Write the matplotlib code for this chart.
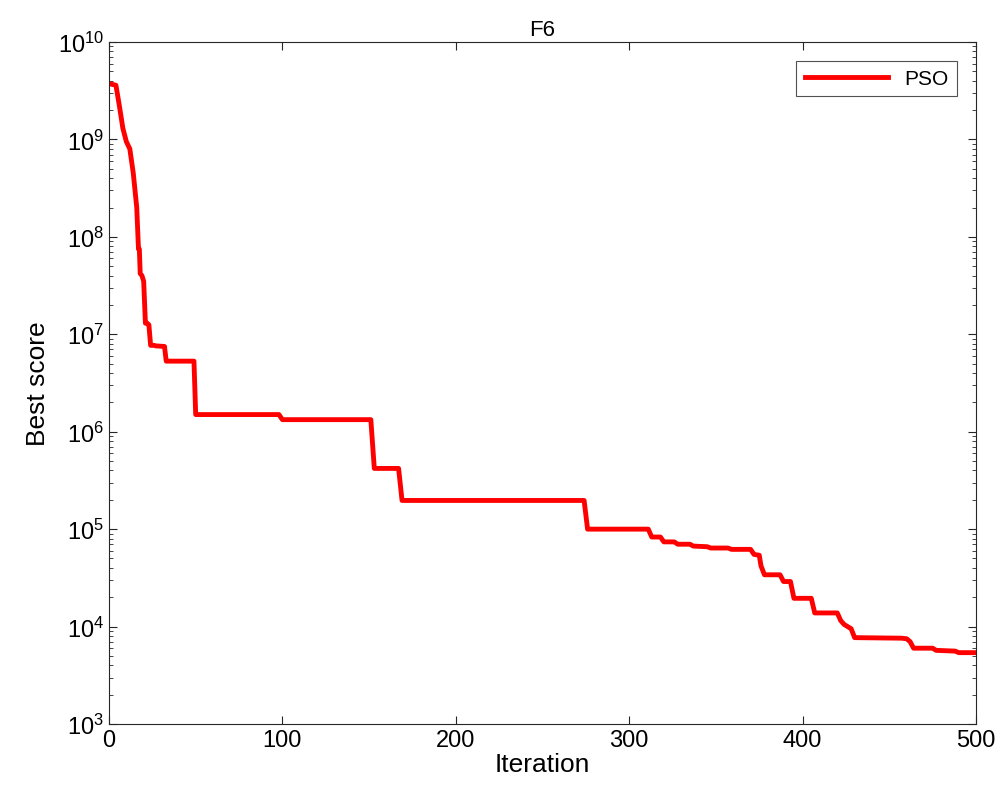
import matplotlib
matplotlib.use('Agg')
from matplotlib import pyplot as plt
from matplotlib.ticker import LogLocator, NullFormatter

plt.rcParams['font.family'] = ['Liberation Sans', 'DejaVu Sans']

# convergence curve (iteration, best score)
iters = [1, 4, 6, 8, 10, 12, 14, 15, 16, 17, 17.5, 18, 19, 20, 21, 22, 23, 24, 26, 27, 32, 33, 49, 50,
         98, 100, 151, 153, 167, 169, 274, 276, 311, 313, 318, 320, 326, 328, 335, 337, 345, 347, 357, 359,
         370, 372, 375, 376, 378, 380, 387, 389, 393, 395, 405, 407, 420, 422, 424, 428, 430, 457, 460, 462,
         464, 475, 477, 488, 490, 500]
scores = [3.7e9, 3.6e9, 2.2e9, 1.3e9, 9.5e8, 8e8, 4.5e8, 3e8, 2e8, 7.5e7, 7.5e7, 4.2e7, 4e7, 3.5e7, 1.3e7, 1.3e7,
          1.25e7, 7.7e6, 7.7e6, 7.6e6, 7.5e6, 5.3e6, 5.3e6, 1.5e6,
          1.5e6, 1.33e6, 1.33e6, 4.2e5, 4.2e5, 1.97e5, 1.97e5, 1.0e5, 1.0e5, 8.3e4, 8.3e4, 7.4e4, 7.4e4,
          7.0e4, 7.0e4, 6.7e4, 6.6e4, 6.4e4, 6.4e4, 6.2e4,
          6.2e4, 5.5e4, 5.4e4, 4.2e4, 3.4e4, 3.4e4, 3.4e4, 2.9e4, 2.9e4, 1.95e4, 1.95e4, 1.38e4, 1.38e4,
          1.15e4, 1.05e4, 9.5e3, 7.7e3, 7.6e3, 7.5e3, 7.0e3,
          6.0e3, 6.0e3, 5.7e3, 5.6e3, 5.4e3, 5.4e3]

fig = plt.figure(figsize=(10.04, 8.12), dpi=100)
ax = fig.add_axes([109 / 1004, 1 - 725 / 812, (976 - 109) / 1004, (725 - 43) / 812])
ax.semilogy([0] + iters, [scores[0]] + scores, color='red', linewidth=3.5, label='PSO')
ax.set_xlim(0, 500)
ax.set_ylim(1e3, 1e10)
ax.set_xticks([0, 100, 200, 300, 400, 500])
ax.yaxis.set_major_locator(LogLocator(base=10, numticks=20))
ax.yaxis.set_minor_locator(LogLocator(base=10, subs=range(2, 10), numticks=100))
ax.yaxis.set_minor_formatter(NullFormatter())
ax.tick_params(which='both', direction='in', top=True, right=True, labelsize=17, color='#262626')
ax.tick_params(which='major', length=6)
ax.tick_params(which='minor', length=3)
for s in ax.spines.values():
    s.set_color('#262626')
ax.set_xlabel('Iteration', fontsize=19, labelpad=1)
ax.set_ylabel('Best score', fontsize=19, labelpad=6)
ax.set_title('F6', fontsize=16, pad=5)
leg = ax.legend(loc='upper right', fontsize=15, fancybox=False, edgecolor='#262626',
                handlelength=4, borderaxespad=0.9)
leg.get_frame().set_linewidth(0.8)
fig.savefig('out.png', dpi=100)
